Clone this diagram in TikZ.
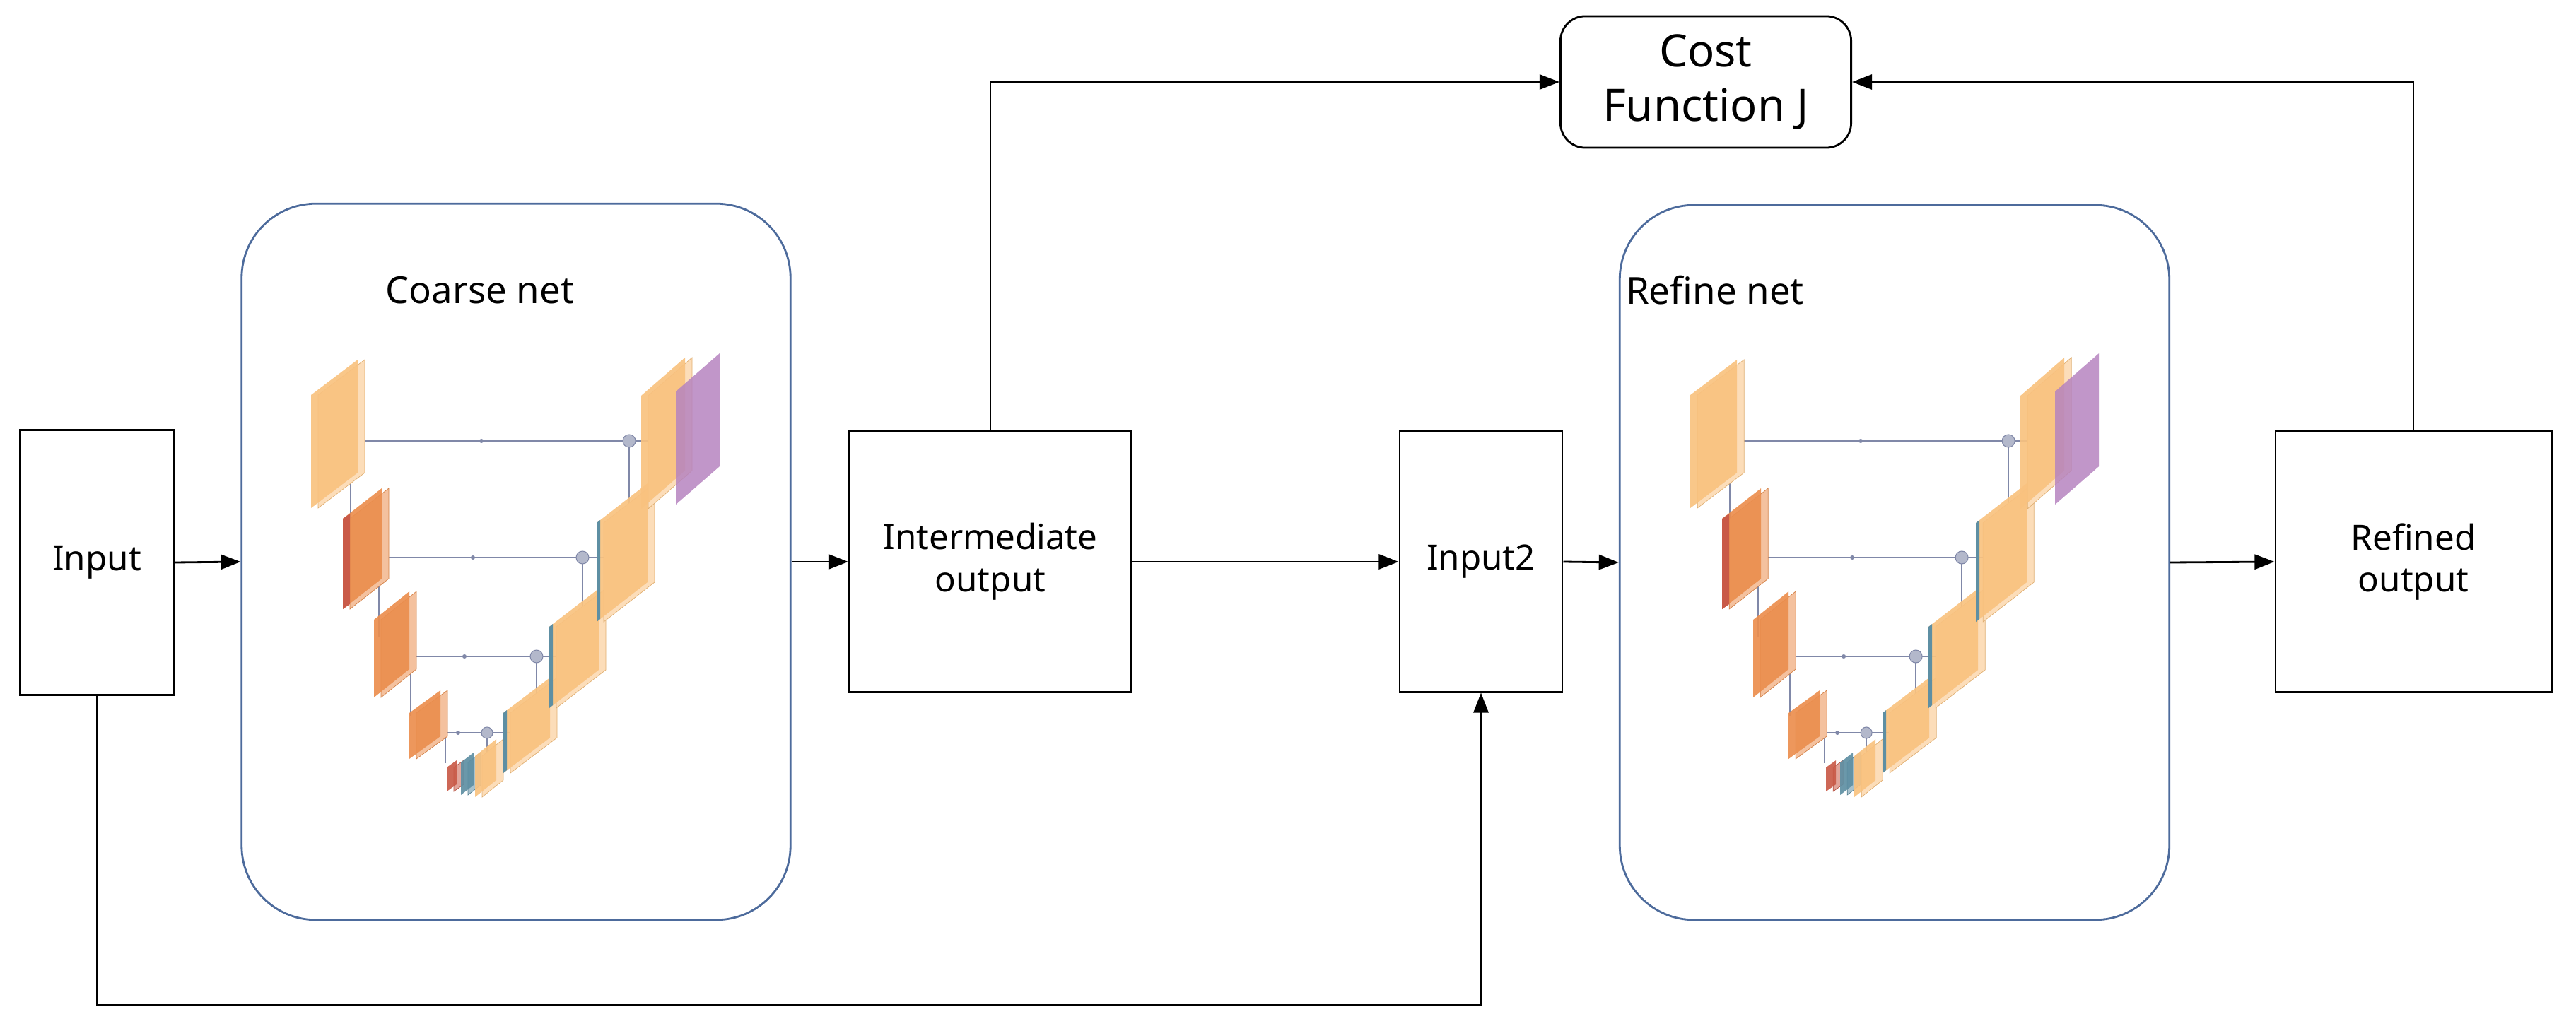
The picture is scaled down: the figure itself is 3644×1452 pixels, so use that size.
\documentclass[tikz,border=0pt]{standalone}
\usepackage{fontspec}
\setmainfont{Noto Sans}
\usetikzlibrary{arrows.meta}
\definecolor{lorange}{HTML}{F9C27F}
\definecolor{dorange}{HTML}{EB8E4E}
\definecolor{lred}{HTML}{C95A48}
\definecolor{lpurple}{HTML}{B684C0}
\definecolor{lteal}{HTML}{5E8FA3}
\definecolor{netblue}{HTML}{4D6B9C}
\definecolor{linkgray}{HTML}{8088A8}
\tikzset{
  box/.style={draw, line width=0.8pt, align=center, font=\fontsize{14}{17}\selectfont},
  net/.style={draw=netblue, line width=0.8pt, rounded corners=1.05cm},
  arr/.style={line width=0.8pt, -{Triangle[length=8pt,width=6pt]}},
  link/.style={linkgray, line width=0.5pt},
  pool/.style={fill=linkgray!60, draw=linkgray, line width=0.3pt}
}
% slab: x, y (bottom left), dx, dy (skew), h, colour
\newcommand{\slab}[6]{%
  \fill[#6!55, draw=#6!90!black, line width=0.2pt] (#1+10,#2)--(#1+10+#3,#2-#4)--(#1+10+#3,#2-#4-#5)--(#1+10,#2-#5)--cycle;
  \fill[#6, opacity=0.92] (#1,#2)--(#1+#3,#2-#4)--(#1+#3,#2-#4-#5)--(#1,#2-#5)--cycle;}
\newcommand{\unet}{%
  % links
  \draw[link] (489,624)--(976,624); \draw[link] (503,789)--(866,789);
  \draw[link] (543,929)--(797,929); \draw[link] (619,1037)--(721,1037);
  \draw[link] (496,624)--(496,754); \draw[link] (536,789)--(536,902);
  \draw[link] (581,929)--(581,1013); \draw[link] (630,1037)--(630,1080);
  \draw[link] (890,624)--(890,720); \draw[link] (824,789)--(824,880);
  \draw[link] (759,929)--(759,1002); \draw[link] (689,1037)--(689,1094);
  % encoder
  \slab{440}{719}{66}{50}{160}{lorange}
  \slab{485}{862}{55}{43}{128}{dorange}
  \fill[lred] (485,862)--(495,855)--(495,727)--(485,734)--cycle;
  \slab{529}{987}{50}{40}{110}{dorange}
  \slab{579}{1074}{44}{32}{65}{dorange}
  \slab{632}{1120}{14}{10}{34}{lred}
  \slab{652}{1125}{18}{14}{46}{lteal}
  \slab{672}{1128}{30}{24}{58}{lorange}
  % decoder
  \slab{712}{1094}{66}{50}{85}{lorange}
  \fill[lteal] (712,1094)--(717,1090)--(717,1005)--(712,1009)--cycle;
  \slab{777}{1002}{70}{54}{115}{lorange}
  \fill[lteal] (777,1002)--(782,998)--(782,883)--(777,887)--cycle;
  \slab{844}{880}{72}{56}{140}{lorange}
  \fill[lteal] (844,880)--(849,876)--(849,736)--(844,740)--cycle;
  \slab{907}{720}{62}{54}{160}{lorange}
  \fill[lpurple, opacity=0.85] (956,714)--(1018,660)--(1018,500)--(956,554)--cycle;
  % merge points
  \draw[pool] (890,624) circle (9); \draw[pool] (824,789) circle (9);
  \draw[pool] (759,929) circle (9); \draw[pool] (689,1037) circle (8);
  \foreach \p in {(681,624),(669,789),(657,929),(648,1037)} \fill[linkgray] \p circle (3);}
\begin{document}
\begin{tikzpicture}[x=0.01cm, y=-0.01cm]
  \useasboundingbox (0,0) rectangle (3644,1452);
  % networks
  \node[net, minimum width=7.76cm, minimum height=10.13cm] (coarse) at (730,795) {};
  \node[font=\fontsize{15}{18}\selectfont] (coarsel) at (679,411) {Coarse net};
  \node[net, minimum width=7.77cm, minimum height=10.11cm] (refine) at (2680,796) {};
  \node[font=\fontsize{15}{18}\selectfont] (refinel) at (2426,411) {Refine net};
  \unet
  \begin{scope}[xshift=19.5cm]\unet\end{scope}
  % boxes
  \node[box, minimum width=2.18cm, minimum height=3.74cm] (input) at (137,796) {Input};
  \node[box, minimum width=3.99cm, minimum height=3.68cm] (inter) at (1401,795) {Intermediate\\output};
  \node[box, minimum width=2.30cm, minimum height=3.68cm] (input2) at (2095,795) {Input2};
  \node[box, minimum width=3.90cm, minimum height=3.68cm] (refined) at (3414,795) {Refined\\output};
  \node[box, rounded corners=0.35cm, minimum width=4.11cm, minimum height=1.86cm,
        font=\fontsize{18}{22}\selectfont] (cost) at (2413,116) {Cost\\Function $\mathbf{J}$};
  % connectors
  \draw[arr] (input.east) -- (coarse.west);
  \draw[arr] (coarse.east) -- (inter.west);
  \draw[arr] (inter.east) -- (input2.west);
  \draw[arr] (input2.east) -- (refine.west);
  \draw[arr] (refine.east) -- (refined.west);
  \draw[arr] (input.south) |- (137,1422) -| (input2.south);
  \draw[arr] (inter.north) |- (cost.west);
  \draw[arr] (refined.north) |- (cost.east);
\end{tikzpicture}
\end{document}
